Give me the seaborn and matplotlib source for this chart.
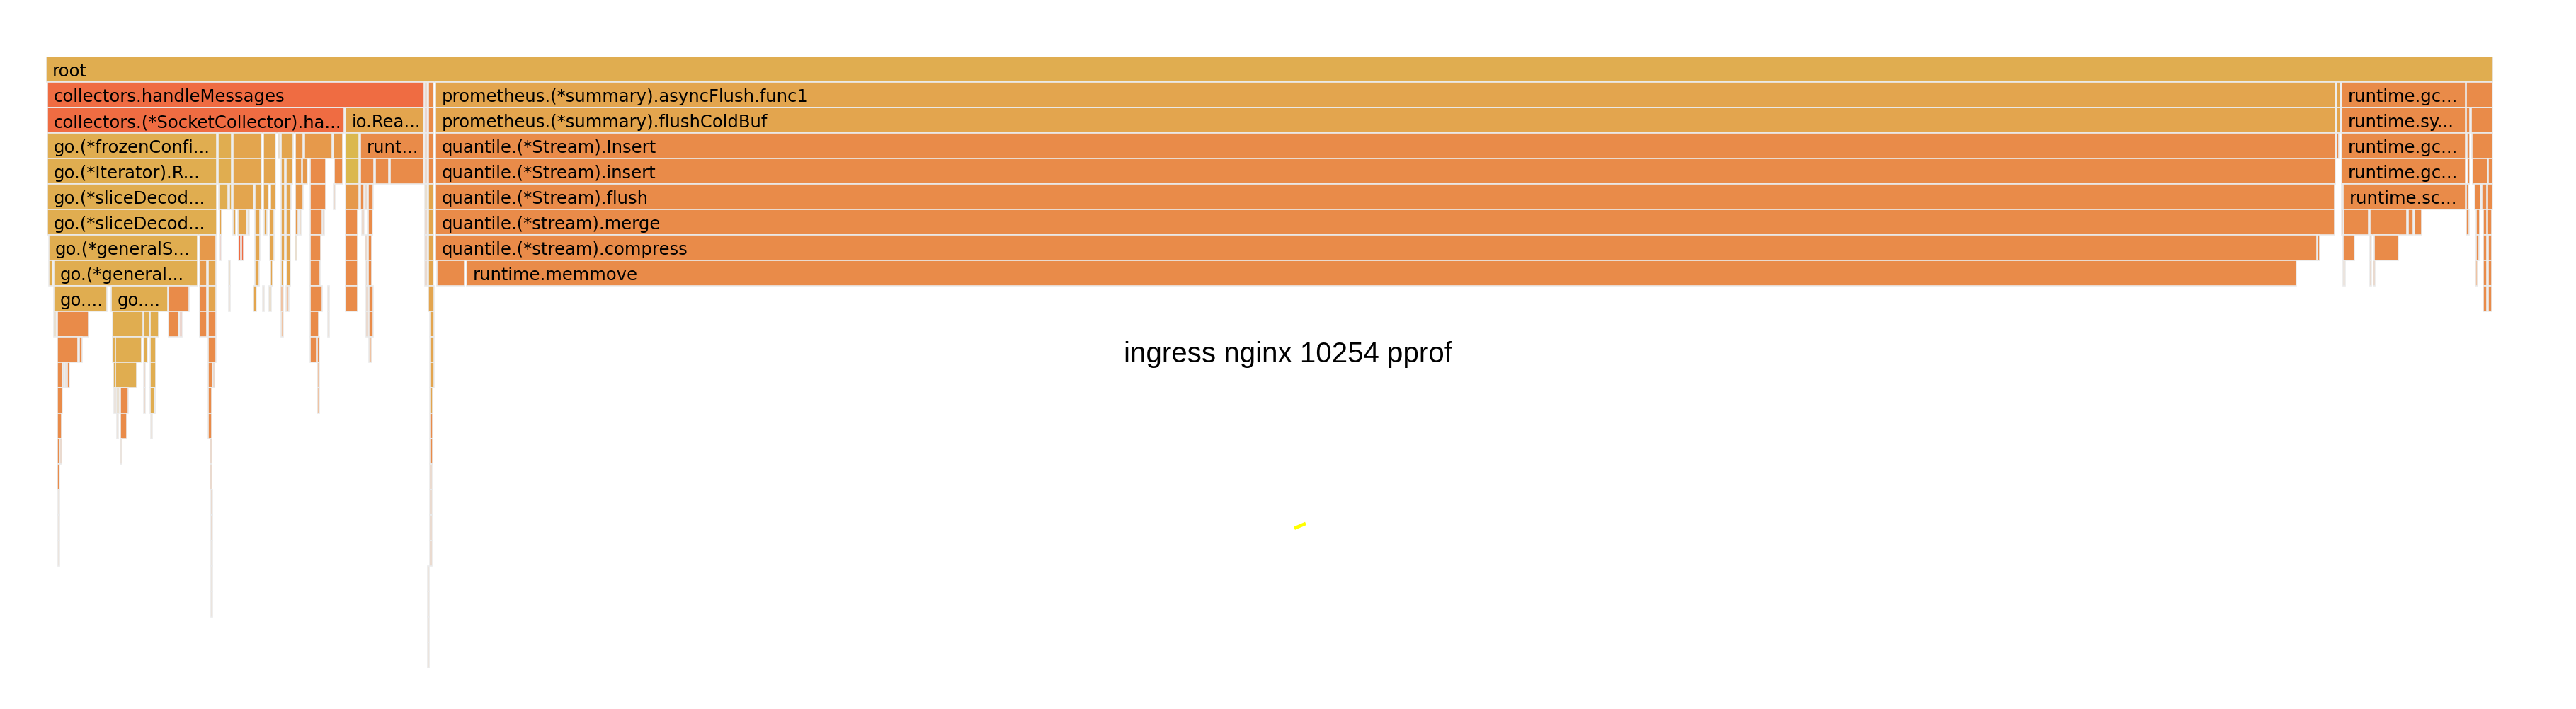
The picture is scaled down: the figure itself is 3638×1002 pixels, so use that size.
import matplotlib
matplotlib.use("Agg")
import matplotlib.pyplot as plt
import matplotlib.transforms as mtransforms
import seaborn as sns
import pandas as pd

# total samples under root
total_samples = 3456
max_depth = 24

# each row: (start, width, tone, label)
row_00 = [(0, 3456, "gold", "root")]
row_01 = [(2, 532, "red", "collectors.handleMessages"), (535, 3, "orange", ""), (540, 7, "orange", ""),
          (550, 2683, "amber", "prometheus.(*summary).asyncFlush.func1"), (3235, 5, "amber", ""),
          (3242, 175, "orange", "runtime.gc..."), (3418, 37, "orange", "")]
row_02 = [(2, 419, "red", "collectors.(*SocketCollector).ha..."), (423, 110, "amber", "io.Rea..."),
          (535, 3, "red", ""), (540, 7, "orange", ""),
          (550, 2683, "amber", "prometheus.(*summary).flushColdBuf"), (3235, 5, "amber", ""),
          (3242, 175, "orange", "runtime.sy..."), (3418, 5, "orange", ""), (3425, 30, "orange", "")]
row_03 = [(2, 239, "gold", "go.(*frozenConfi..."), (243, 19, "gold", ""), (264, 40, "amber", ""),
          (307, 17, "amber", ""), (328, 2, "amber", ""), (332, 17, "amber", ""), (352, 11, "tan", ""),
          (365, 39, "tan", ""), (406, 13, "tan", ""), (423, 19, "yellow", ""), (444, 89, "orange", "runt..."),
          (535, 3, "orange", ""), (540, 7, "orange", ""),
          (550, 2683, "orange", "quantile.(*Stream).Insert"), (3235, 3, "orange", ""),
          (3242, 175, "orange", "runtime.gc..."), (3419, 4, "orange", ""), (3426, 29, "orange", "")]
row_04 = [(2, 239, "gold", "go.(*Iterator).R..."), (243, 19, "gold", ""), (264, 40, "amber", ""),
          (307, 17, "amber", ""), (332, 5, "amber", ""), (339, 9, "amber", ""), (352, 9, "tan", ""),
          (362, 7, "tan", ""), (373, 22, "orange", ""), (407, 12, "orange", ""), (423, 19, "yellow", ""),
          (444, 19, "orange", ""), (465, 19, "orange", ""), (486, 47, "orange", ""),
          (535, 3, "orange", ""), (540, 7, "orange", ""),
          (550, 2683, "orange", "quantile.(*Stream).insert"),
          (3242, 175, "orange", "runtime.gc..."), (3420, 3, "orange", ""), (3427, 21, "orange", ""),
          (3449, 6, "orange", "")]
row_05 = [(2, 239, "gold", "go.(*sliceDecod..."), (244, 13, "gold", ""), (259, 3, "gold", ""),
          (264, 29, "amber", ""), (295, 9, "amber", ""), (307, 7, "amber", ""), (317, 7, "amber", ""),
          (332, 5, "amber", ""), (339, 7, "amber", ""), (352, 11, "tan", ""), (373, 22, "orange", ""),
          (406, 2, "orange", ""), (423, 19, "tan", ""), (444, 5, "orange", ""), (451, 2, "orange", ""),
          (455, 7, "orange", ""), (535, 3, "amber", ""), (540, 7, "amber", ""),
          (550, 2682, "orange", "quantile.(*Stream).flush"), (3242, 2, "orange", ""),
          (3244, 173, "orange", "runtime.sc..."), (3418, 3, "orange", ""), (3430, 8, "orange", ""),
          (3440, 7, "orange", ""), (3448, 7, "orange", "")]
row_06 = [(2, 239, "gold", "go.(*sliceDecod..."), (245, 3, "amber", ""), (264, 4, "amber", ""),
          (271, 12, "amber", ""), (285, 2, "amber", ""), (295, 7, "amber", ""), (308, 4, "amber", ""),
          (316, 6, "amber", ""), (332, 5, "amber", ""), (339, 6, "amber", ""), (352, 4, "tan", ""),
          (358, 2, "tan", ""), (373, 17, "orange", ""), (391, 2, "orange", ""), (423, 17, "orange", ""),
          (446, 3, "orange", ""), (455, 6, "orange", ""), (535, 3, "orange", ""), (540, 7, "amber", ""),
          (550, 2682, "orange", "quantile.(*stream).merge"), (3242, 2, "orange", ""),
          (3245, 35, "orange", ""), (3282, 52, "orange", ""), (3336, 7, "orange", ""),
          (3345, 10, "orange", ""), (3418, 4, "orange", ""), (3432, 5, "orange", ""),
          (3442, 5, "orange", ""), (3448, 6, "orange", "")]
row_07 = [(4, 210, "gold", "go.(*generalS..."), (217, 23, "tan", ""), (245, 2, "red", ""),
          (272, 3, "red", ""), (276, 3, "red", ""), (295, 7, "amber", ""), (316, 6, "amber", ""),
          (332, 5, "amber", ""), (339, 6, "amber", ""), (352, 2, "amber", ""), (373, 15, "orange", ""),
          (423, 17, "orange", ""), (451, 2, "orange", ""), (455, 5, "orange", ""),
          (535, 3, "orange", ""), (540, 7, "amber", ""),
          (550, 2657, "orange", "quantile.(*stream).compress"), (3208, 3, "orange", ""),
          (3244, 16, "orange", ""), (3282, 2, "orange", ""), (3288, 34, "orange", ""),
          (3432, 4, "orange", ""), (3442, 5, "orange", ""), (3449, 5, "orange", "")]
row_08 = [(4, 5, "gold", ""), (11, 203, "gold", "go.(*general..."), (217, 10, "tan", ""),
          (229, 11, "amber", ""), (258, 2, "amber", ""), (295, 6, "amber", ""), (317, 3, "amber", ""),
          (332, 3, "amber", ""), (340, 5, "amber", ""), (373, 14, "orange", ""), (423, 17, "orange", ""),
          (452, 2, "orange", ""), (455, 5, "orange", ""), (535, 3, "orange", ""), (540, 7, "amber", ""),
          (552, 39, "orange", ""), (594, 2584, "orange", "runtime.memmove"),
          (3244, 3, "light", ""), (3282, 2, "orange", ""), (3287, 2, "orange", ""),
          (3431, 3, "light", ""), (3442, 5, "orange", ""), (3449, 5, "orange", "")]
row_09 = [(11, 75, "gold", "go...."), (92, 80, "gold", "go...."), (173, 29, "orange", ""),
          (217, 10, "orange", ""), (229, 11, "amber", ""), (258, 2, "light", ""), (293, 4, "amber", ""),
          (306, 2, "light", ""), (315, 3, "amber", ""), (331, 4, "light", ""), (339, 4, "light", ""),
          (373, 17, "orange", ""), (398, 2, "light", ""), (423, 17, "orange", ""), (452, 3, "orange", ""),
          (456, 6, "orange", ""), (540, 8, "amber", ""), (3442, 5, "orange", ""), (3449, 5, "orange", "")]
row_10 = [(11, 3, "gold", ""), (16, 44, "orange", ""), (94, 43, "gold", ""), (138, 8, "gold", ""),
          (147, 12, "gold", ""), (173, 14, "orange", ""), (189, 3, "red", ""), (217, 10, "orange", ""),
          (229, 11, "orange", ""), (332, 3, "light", ""), (373, 12, "orange", ""), (398, 2, "light", ""),
          (452, 3, "orange", ""), (456, 6, "orange", ""), (542, 6, "amber", "")]
row_11 = [(16, 29, "orange", ""), (47, 4, "orange", ""), (94, 4, "gold", ""), (98, 37, "gold", ""),
          (138, 5, "gold", ""), (147, 8, "gold", ""), (229, 11, "orange", ""), (373, 9, "orange", ""),
          (383, 3, "orange", ""), (456, 4, "light", ""), (542, 6, "amber", "")]
row_12 = [(16, 7, "orange", ""), (24, 2, "light", ""), (27, 2, "light", ""), (30, 3, "orange", ""),
          (95, 3, "gold", ""), (98, 30, "gold", ""), (138, 2, "orange", ""), (147, 8, "gold", ""),
          (229, 6, "orange", ""), (236, 2, "orange", ""), (383, 3, "light", ""), (542, 6, "amber", "")]
row_13 = [(16, 7, "orange", ""), (96, 3, "light", ""), (100, 3, "gold", ""), (105, 11, "orange", ""),
          (138, 2, "orange", ""), (147, 6, "gold", ""), (154, 1, "light", ""), (229, 5, "orange", ""),
          (383, 3, "light", ""), (542, 4, "amber", "")]
row_14 = [(16, 6, "orange", ""), (100, 2, "light", ""), (105, 9, "orange", ""), (148, 2, "light", ""),
          (229, 5, "orange", ""), (542, 4, "orange", "")]
row_15 = [(16, 4, "orange", ""), (20, 2, "orange", ""), (105, 2, "light", ""), (232, 2, "orange", ""),
          (542, 4, "orange", "")]
row_16 = [(16, 3, "orange", ""), (232, 2, "orange", ""), (542, 3, "orange", "")]
row_17 = [(17, 2, "light", ""), (233, 2, "orange", ""), (542, 3, "orange", "")]
row_18 = [(17, 2, "light", ""), (233, 2, "orange", ""), (542, 3, "orange", "")]
row_19 = [(17, 2, "light", ""), (233, 2, "light", ""), (542, 3, "orange", "")]
row_20 = [(233, 2, "light", ""), (539, 2, "light", "")]
row_21 = [(233, 2, "light", ""), (539, 2, "light", "")]
row_22 = [(539, 2, "light", "")]
row_23 = [(539, 2, "light", "")]

rows = [row_00, row_01, row_02, row_03, row_04, row_05, row_06, row_07, row_08, row_09, row_10, row_11,
        row_12, row_13, row_14, row_15, row_16, row_17, row_18, row_19, row_20, row_21, row_22, row_23]

title_text = "ingress nginx 10254 pprof"

# stray highlight stroke seen under the title
pointer_x = [1763, 1779]
pointer_y = [18.52, 18.33]

tone_colors = {
    "gold": "#e0ad50",
    "amber": "#e3a54e",
    "tan": "#e6994b",
    "orange": "#e98b49",
    "red": "#ef6c42",
    "yellow": "#dbb84f",
    "light": "#efc3a3",
}

records = []
for depth, row in enumerate(rows):
    for start, width, tone, label in row:
        records.append({"depth": depth, "start": start, "width": width, "tone": tone, "label": label})
frames = pd.DataFrame(records)

sns.set_theme(style="white")
plt.rcParams["font.family"] = ["DejaVu Sans"]

W, H = 3638, 1002
fig = plt.figure(figsize=(W / 100, H / 100), dpi=100)
ax = fig.add_axes([65 / W, (H - 944) / H, 3456 / W, 864 / H])

ax.barh(
    y=frames["depth"],
    width=frames["width"],
    left=frames["start"],
    height=1.0,
    align="edge",
    color=[tone_colors[t] for t in frames["tone"]],
    edgecolor="#ebebeb",
    linewidth=1.2,
)

ax.set_xlim(0, total_samples)
ax.set_ylim(max_depth, 0)
ax.set_axis_off()

label_tf = mtransforms.offset_copy(ax.transData, fig=fig, x=9, y=0, units="dots")
for _, fr in frames[frames["label"] != ""].iterrows():
    ax.text(fr["start"], fr["depth"] + 0.78, fr["label"], transform=label_tf,
            ha="left", va="baseline", fontsize=17.5, color="black")

ax.plot(pointer_x, pointer_y, color="#ffff00", linewidth=3.4, solid_capstyle="butt")

fig.text(0.5, 0.489, title_text, ha="center", va="baseline", fontsize=29,
         family=["Liberation Sans", "DejaVu Sans"], color="black")

fig.savefig("out.png", dpi=100, facecolor="white")
